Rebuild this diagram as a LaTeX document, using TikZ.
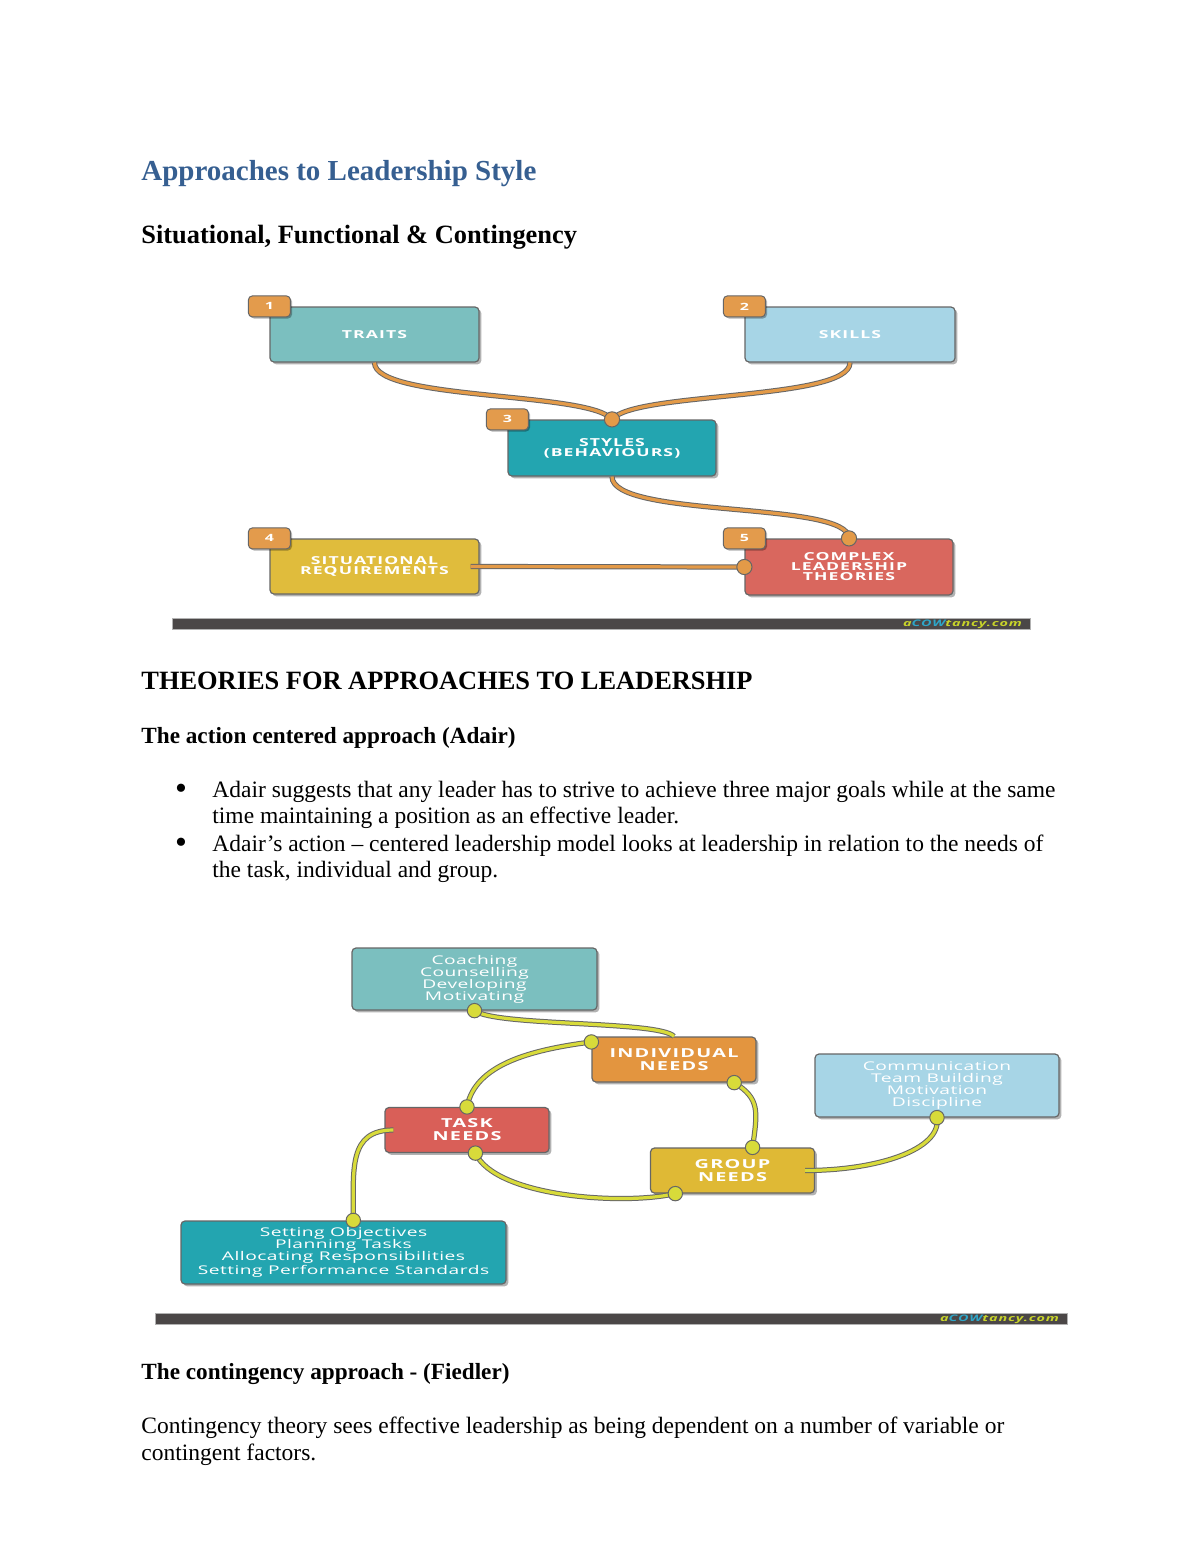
\documentclass[tikz,border=0pt]{standalone}
\usepackage{fontspec}
\setmainfont{Liberation Serif}
\newfontfamily\boxfont{Open Sans}[FakeStretch=1.6, LetterSpace=10]
\newfontfamily\listfont{Open Sans}[FakeStretch=1.6, LetterSpace=4]
\usetikzlibrary{positioning, calc, shadows}
\definecolor{titleblue}{HTML}{365F91}
\definecolor{traitsteal}{HTML}{7BBFBF}
\definecolor{skillsblue}{HTML}{A7D5E6}
\definecolor{stylesteal}{HTML}{23A5B0}
\definecolor{situyellow}{HTML}{E0BC3C}
\definecolor{complexred}{HTML}{D9675E}
\definecolor{badgeorange}{HTML}{E39B4C}
\definecolor{linkorange}{HTML}{E39A48}
\definecolor{needorange}{HTML}{E3953F}
\definecolor{needred}{HTML}{D95F58}
\definecolor{needyellow}{HTML}{DFB935}
\definecolor{linklime}{HTML}{D8DB3A}
\definecolor{bargray}{HTML}{4B4747}
\definecolor{logolime}{HTML}{C8D42A}
\definecolor{logoblue}{HTML}{2EA6C8}

\begin{document}
\begin{tikzpicture}[x=0.5pt, y=-0.5pt,
        box/.style={rectangle, draw=black!60, line width=0.6pt, rounded corners=2pt, text=white, align=center, inner sep=0pt,
            drop shadow={shadow xshift=1.2pt, shadow yshift=-1.2pt, fill=black, opacity=0.3}},
        capbox/.style={box, font=\boxfont\bfseries\fontsize{5.5}{5}\selectfont},
        needbox/.style={box, minimum width=82pt, minimum height=22.5pt, font=\boxfont\bfseries\fontsize{6.2}{6.5}\selectfont},
        listbox/.style={box, minimum height=31pt, font=\listfont\fontsize{6}{6}\selectfont},
        badge/.style={rectangle, draw=black!60, line width=0.5pt, fill=badgeorange, rounded corners=2pt, text=white,
            minimum width=21pt, minimum height=10.5pt, inner sep=0pt, font=\boxfont\bfseries\fontsize{5}{5}\selectfont,
            drop shadow={shadow xshift=0.8pt, shadow yshift=-0.8pt, fill=black, opacity=0.3}},
        orangelink/.style={draw=black!60, line width=0.5pt, double=linkorange, double distance=1.6pt},
        limelink/.style={draw=black!60, line width=0.5pt, double=linklime, double distance=1.6pt},
        orangedot/.style={fill=linkorange, draw=black!60, line width=0.5pt},
        limedot/.style={fill=linklime, draw=black!60, line width=0.5pt},
        bar/.style={rectangle, fill=bargray, draw=black!30, line width=0.4pt, inner sep=0pt, minimum height=5.5pt},
        logo/.style={anchor=east, inner sep=0pt, font=\boxfont\bfseries\itshape\fontsize{4.5}{4.5}\selectfont},
        heading/.style={anchor=base west, inner sep=0pt, text=titleblue, font=\bfseries\fontsize{14.5}{16}\selectfont},
        subhead/.style={anchor=base west, inner sep=0pt, font=\bfseries\fontsize{13.2}{15}\selectfont},
        minorhead/.style={anchor=base west, inner sep=0pt, font=\bfseries\fontsize{11.6}{14}\selectfont},
        para/.style={anchor=base west, inner sep=0pt, font=\fontsize{11.75}{14}\selectfont},
        bullet/.style={anchor=base, inner sep=0pt, font=\fontsize{17}{14}\selectfont}]

        \fill[white] (0,0) rectangle (1200,1553);
        \useasboundingbox (0,0) rectangle (1200,1553);

        % Headings and text
        \node [heading] (title) at (141,180) {Approaches to Leadership Style};
        \node [subhead] (sub) at (141,243) {Situational, Functional \& Contingency};
        \node [subhead] (theories) at (141,689) {THEORIES FOR APPROACHES TO LEADERSHIP};
        \node [minorhead] (adair) at (141,743) {The action centered approach (Adair)};
        \node [bullet] (bul1) at (181,799) {\textbullet};
        \node [para] (line1) at (212,797) {Adair suggests that any leader has to strive to achieve three major goals while at the same};
        \node [para] (line2) at (212,823) {time maintaining a position as an effective leader.};
        \node [bullet] (bul2) at (181,853) {\textbullet};
        \node [para] (line3) at (212,851) {Adair’s action – centered leadership model looks at leadership in relation to the needs of};
        \node [para] (line4) at (212,877) {the task, individual and group.};
        \node [minorhead] (fiedler) at (141,1379) {The contingency approach - (Fiedler)};
        \node [para] (line5) at (141,1433) {Contingency theory sees effective leadership as being dependent on a number of variable or};
        \node [para] (line6) at (141,1460) {contingent factors.};

        % Nodes - first diagram
        \node [capbox, fill=traitsteal, minimum width=104.5pt, minimum height=27.5pt] (traits) at (374.5,334.5) {TRAITS};
        \node [capbox, fill=skillsblue, minimum width=105pt, minimum height=27.5pt] (skills) at (850,334.5) {SKILLS};
        \node [capbox, fill=stylesteal, minimum width=104pt, minimum height=28pt] (styles) at (612,448) {STYLES\\(BEHAVIOURS)};
        \node [capbox, fill=situyellow, minimum width=104.5pt, minimum height=27.5pt] (situational) at (374.5,566.5) {SITUATIONAL\\REQUIREMENTS};
        \node [capbox, fill=complexred, minimum width=104pt, minimum height=28pt] (complex) at (849,567) {COMPLEX\\LEADERSHIP\\THEORIES};

        \node [badge] (b1) at (traits.north west) {1};
        \node [badge] (b2) at (skills.north west) {2};
        \node [badge] (b3) at (styles.north west) {3};
        \node [badge] (b4) at (situational.north west) {4};
        \node [badge] (b5) at (complex.north west) {5};

        % Links - orange
        \draw [orangelink] (traits.south) .. controls +(0,38) and +(-22,-28) .. (styles.north);
        \draw [orangelink] (skills.south) .. controls +(0,38) and +(22,-28) .. (styles.north);
        \draw [orangelink] (styles.south) .. controls +(0,42) and +(0,-38) .. (complex.north);
        \draw [orangelink, shorten <=-4.5pt] (situational.east) -- (complex.west);
        \filldraw [orangedot] (styles.north) circle (3.8pt);
        \filldraw [orangedot] (complex.north) circle (3.8pt);
        \filldraw [orangedot] (complex.west) circle (3.8pt);

        \node [bar, minimum width=429pt] (bar1) at (601,624) {};
        \node [logo] (logo1) at ($(bar1.east)+(-8,0)$) {\textcolor{logolime}{a}\textcolor{logoblue}{COW}\textcolor{logolime}{tancy.com}};

        % Nodes - second diagram
        \node [listbox, fill=traitsteal, minimum width=122.5pt] (coaching) at (474.5,979) {Coaching\\Counselling\\Developing\\Motivating};
        \node [needbox, fill=needorange] (individual) at (674,1059.5) {INDIVIDUAL\\NEEDS};
        \node [listbox, fill=skillsblue, minimum width=122pt, minimum height=31.5pt] (communication) at (937,1085.5) {Communication\\Team Building\\Motivation\\Discipline};
        \node [needbox, fill=needred] (task) at (467,1130) {TASK\\NEEDS};
        \node [needbox, fill=needyellow] (group) at (732.5,1170.5) {GROUP\\NEEDS};
        \node [listbox, fill=stylesteal, minimum width=162.5pt, minimum height=31.5pt] (setting) at (343.5,1252.5) {Setting Objectives\\Planning Tasks\\Allocating Responsibilities\\Setting Performance Standards};

        % Links - lime
        \draw [limelink] (coaching.south) .. controls +(22,16) and +(-15,-16) .. (individual.north);
        \draw [limelink] (individual.168) .. controls +(-62,8) and +(8,-42) .. (task.north);
        \draw [limelink] (individual.-21) .. controls +(26,16) and +(5,-36) .. (group.49);
        \draw [limelink] (task.-70) .. controls +(20,44) and +(-52,12) .. (group.-158);
        \draw [limelink, shorten <=-5pt] (group.east) .. controls +(62,0) and +(5,32) .. (communication.south);
        \draw [limelink, shorten <=-4.5pt] (task.west) .. controls +(-36,0) and +(0,-52) .. (setting.73);
        \foreach \spot in {coaching.south, individual.168, task.north, individual.-21, group.49, task.-70, group.-158, communication.south, setting.73}
            \filldraw [limedot] (\spot) circle (3.6pt);

        \node [bar, minimum width=456pt] (bar2) at (611,1319) {};
        \node [logo] (logo2) at ($(bar2.east)+(-8,0)$) {\textcolor{logolime}{a}\textcolor{logoblue}{COW}\textcolor{logolime}{tancy.com}};
\end{tikzpicture}
\end{document}
